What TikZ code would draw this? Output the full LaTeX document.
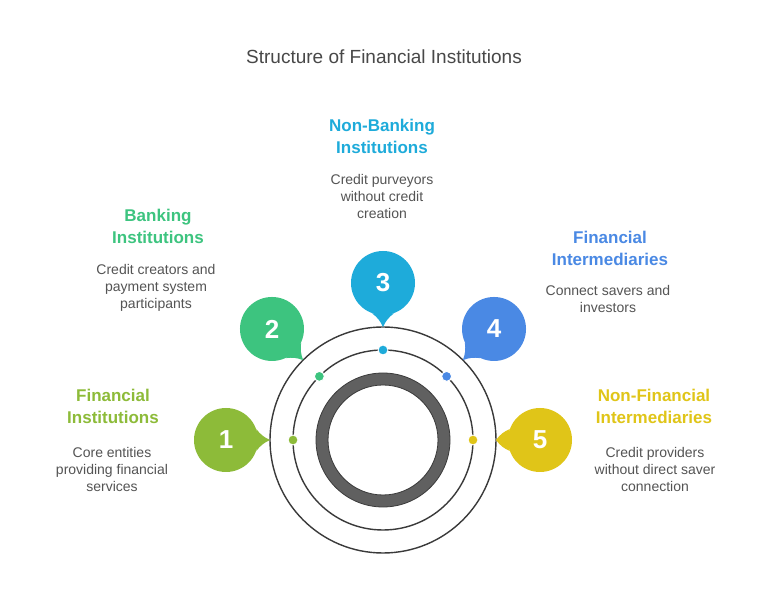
\documentclass[tikz,border=0pt]{standalone}
\usepackage{fontspec}
\setmainfont{Liberation Sans}
\usetikzlibrary{positioning,calc}
\definecolor{ColOne}{RGB}{141,187,57}
\definecolor{ColTwo}{RGB}{61,196,127}
\definecolor{ColThree}{RGB}{30,171,218}
\definecolor{ColFour}{RGB}{74,137,228}
\definecolor{ColFive}{RGB}{224,197,24}
\definecolor{RingLine}{RGB}{58,58,58}
\definecolor{RingFill}{RGB}{96,96,96}
\definecolor{TitleGray}{RGB}{72,72,72}
\definecolor{TextGray}{RGB}{84,84,84}

\begin{document}
\begin{tikzpicture}[x=1pt, y=1pt,
    ring/.style={draw=RingLine, line width=1.4pt},
    bubble/.style={circle, minimum size=64pt, inner sep=0pt, text=white, font=\fontsize{26}{26}\selectfont\bfseries},
    dot/.style={circle, minimum size=10pt, inner sep=0pt, draw=white, line width=1pt},
    head/.style={align=center, font=\fontsize{17}{22}\selectfont\bfseries},
    desc/.style={align=center, text=TextGray, font=\fontsize{14}{17}\selectfont}
  ]
  \useasboundingbox[fill=white] (0,0) rectangle (768,610);

  \node[text=TitleGray, font=\fontsize{19}{22}\selectfont] (title) at (384,553) {Structure of Financial Institutions};

  % rings
  \coordinate (hub) at (383,170);
  \draw[ring] (hub) circle[radius=113];
  \draw[ring] (hub) circle[radius=90];
  \draw[draw=RingFill, line width=12pt] (hub) circle[radius=61];
  \draw[RingLine, line width=0.8pt] (hub) circle[radius=67];
  \draw[RingLine, line width=0.8pt] (hub) circle[radius=55];

  % tips and dots
  \coordinate (t1) at ($(hub)+(180:113)$);
  \coordinate (t2) at ($(hub)+(135:113)$);
  \coordinate (t3) at ($(hub)+(90:113)$);
  \coordinate (t4) at ($(hub)+(45:113)$);
  \coordinate (t5) at ($(hub)+(0:113)$);
  \node[dot, fill=ColOne]   (d1) at ($(hub)+(180:90)$) {};
  \node[dot, fill=ColTwo]   (d2) at ($(hub)+(135:90)$) {};
  \node[dot, fill=ColThree] (d3) at ($(hub)+(90:90)$)  {};
  \node[dot, fill=ColFour]  (d4) at ($(hub)+(45:90)$)  {};
  \node[dot, fill=ColFive]  (d5) at ($(hub)+(0:90)$)   {};

  % bubbles
  \node[bubble, fill=ColOne]   (b1) at ($(hub)+(180:157)$) {1};
  \node[bubble, fill=ColTwo]   (b2) at ($(hub)+(135:157)$) {2};
  \node[bubble, fill=ColThree] (b3) at ($(hub)+(90:157)$)  {3};
  \node[bubble, fill=ColFour]  (b4) at ($(hub)+(45:157)$)  {4};
  \node[bubble, fill=ColFive]  (b5) at ($(hub)+(0:157)$)   {5};
  \fill[ColOne]   (b1.20)  to[bend right=14] (t1) to[bend right=14] (b1.-20)  -- cycle;
  \fill[ColTwo]   (b2.-25) to[bend right=14] (t2) to[bend right=14] (b2.-65)  -- cycle;
  \fill[ColThree] (b3.-70) to[bend right=14] (t3) to[bend right=14] (b3.-110) -- cycle;
  \fill[ColFour]  (b4.-115) to[bend right=14] (t4) to[bend right=14] (b4.-155) -- cycle;
  \fill[ColFive]  (b5.160) to[bend right=14] (t5) to[bend right=14] (b5.200)  -- cycle;

  % labels
  \node[head, text=ColOne]   (h1) at (113,204) {Financial\\Institutions};
  \node[desc]                (x1) at (112,141) {Core entities\\providing financial\\services};
  \node[head, text=ColTwo]   (h2) at (158,384) {Banking\\Institutions};
  \node[desc]                (x2) at (156,322) {Credit creators and\\payment system\\participants};
  \node[head, text=ColThree] (h3) at (382,474) {Non-Banking\\Institutions};
  \node[desc]                (x3) at (382,413) {Credit purveyors\\without credit\\creation};
  \node[head, text=ColFour]  (h4) at (610,362) {Financial\\Intermediaries};
  \node[desc]                (x4) at (608,311) {Connect savers and\\investors};
  \node[head, text=ColFive]  (h5) at (654,204) {Non-Financial\\Intermediaries};
  \node[desc]                (x5) at (655,141) {Credit providers\\without direct saver\\connection};
\end{tikzpicture}
\end{document}
